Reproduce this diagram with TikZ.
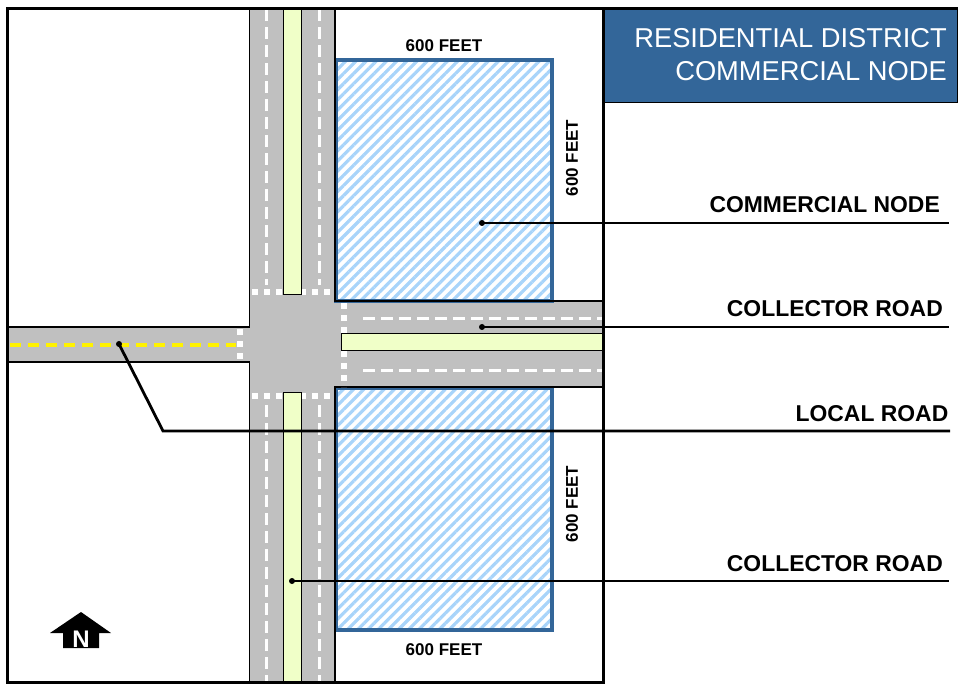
\documentclass[tikz,border=0pt]{standalone}
\usepackage{fontspec}
\setmainfont{Liberation Sans}
\usetikzlibrary{patterns.meta}
\definecolor{roadgray}{HTML}{C0C0C0}
\definecolor{medianyellow}{HTML}{F0FFC8}
\definecolor{titleblue}{HTML}{336699}
\definecolor{hatchblue}{HTML}{A8D4FA}
\tikzset{
 road/.style={fill=roadgray, draw=none},
 edgeline/.style={draw=black, line width=1.1pt},
 median/.style={fill=medianyellow, draw=black, line width=1pt},
 lanedash/.style={draw=white, line width=3pt, dash pattern=on 12pt off 6pt},
 crossdash/.style={draw=white, line width=6pt, dash pattern=on 6pt off 6pt},
 centerdash/.style={draw=yellow, line width=3.4pt, dash pattern=on 11pt off 7pt},
 parcel/.style={draw=titleblue, line width=3.5pt, pattern={Lines[angle=45, distance=7.2pt, line width=3.2pt]}, pattern color=hatchblue},
 dotmark/.style={circle, fill=black, inner sep=0pt, minimum size=6pt},
 leader/.style={draw=black, line width=2.2pt},
 roadlabel/.style={font=\fontsize{22.9}{26}\selectfont\bfseries, anchor=base east, inner sep=0pt},
 feetlabel/.style={font=\fontsize{17}{20}\selectfont\bfseries, inner sep=0pt},
}
\begin{document}
\begin{tikzpicture}[x=1pt, y=-1pt]
 \useasboundingbox (0,0) rectangle (964,692);
 % road surfaces
 \fill[road] (250,9) rectangle (335,682);
 \fill[road] (7,327) rectangle (250,362);
 \fill[road] (335,301) rectangle (604,387);

 % commercial parcels
 \path[parcel] (336,60) rectangle (552,301);
 \path[parcel] (336,388) rectangle (552,630);

 % road edges
 \draw[edgeline] (249.5,9) -- (249.5,327) -- (7,327);
 \draw[edgeline] (7,362) -- (249.5,362) -- (249.5,682);
 \draw[edgeline] (335,9) -- (335,301) -- (604,301);
 \draw[edgeline] (604,387) -- (335,387) -- (335,682);

 % lane lines
 \draw[lanedash] (266,9) -- (266,285);
 \draw[lanedash] (319,9) -- (319,285);
 \draw[lanedash] (266,405) -- (266,682);
 \draw[lanedash] (319,405) -- (319,682);
 \draw[lanedash] (363,319) -- (604,319);
 \draw[lanedash] (363,371) -- (604,371);
 \draw[centerdash] (10,345) -- (236,345);

 % crosswalks
 \draw[crossdash] (252,292.5) -- (335,292.5);
 \draw[crossdash] (252,396) -- (335,396);
 \draw[crossdash] (240,329) -- (240,362);
 \draw[crossdash] (344,303) -- (344,387);

 % medians
 \draw[median] (283,9) rectangle (301,295);
 \draw[median] (283,393) rectangle (301,682);
 \draw[median] (341.5,334) rectangle (603,351);

 % outer frame
 \draw[black, line width=3pt] (958,9) -- (7,9) -- (7,682) -- (603.5,682) -- (603.5,9);

 % title
 \node[fill=titleblue, draw=black, line width=1pt, minimum width=353pt, minimum height=93pt, anchor=north west, inner sep=0pt] (titlebox) at (604,9.5) {};
 \node[white, font=\fontsize{27.3}{33}\selectfont, align=right, anchor=east, inner sep=0pt] (titletext) at (947,55) {RESIDENTIAL DISTRICT\\COMMERCIAL NODE};

 % size labels
 \node[feetlabel] (feettop) at (444,46) {600 FEET};
 \node[feetlabel] (feetbottom) at (444,650) {600 FEET};
 \node[feetlabel, rotate=90] (feetupper) at (572,158) {600 FEET};
 \node[feetlabel, rotate=90] (feetlower) at (572,504) {600 FEET};

 % leaders
 \node[dotmark] (commercialdot) at (482,223) {};
 \node[dotmark] (collectordot) at (482,327) {};
 \node[dotmark] (localdot) at (119,344) {};
 \node[dotmark] (southdot) at (292,581) {};
 \coordinate (commercialend) at (949,223);
 \coordinate (collectorend) at (949,327);
 \coordinate (localbend) at (163,431);
 \coordinate (localend) at (950,431);
 \coordinate (southend) at (949,581);
 \draw[leader] (commercialdot.center) -- (commercialend);
 \draw[leader] (collectordot.center) -- (collectorend);
 \draw[leader, line width=2.8pt] (localdot.center) -- (localbend) -- (localend);
 \draw[leader] (southdot.center) -- (southend);

 % road labels
 \node[roadlabel] (commerciallabel) at (940,213) {COMMERCIAL NODE};
 \node[roadlabel] (collectorlabel) at (943,317) {COLLECTOR ROAD};
 \node[roadlabel] (locallabel) at (948.5,421) {LOCAL ROAD};
 \node[roadlabel] (southlabel) at (943,571) {COLLECTOR ROAD};

 % north arrow
 \fill[black] (81,612) -- (111,633) -- (99,633) -- (99,648) -- (63,648) -- (63,633) -- (50,633) -- cycle;
 \node[white, font=\fontsize{24}{24}\selectfont\bfseries, inner sep=0pt] (northmark) at (81,639) {N};
\end{tikzpicture}
\end{document}
